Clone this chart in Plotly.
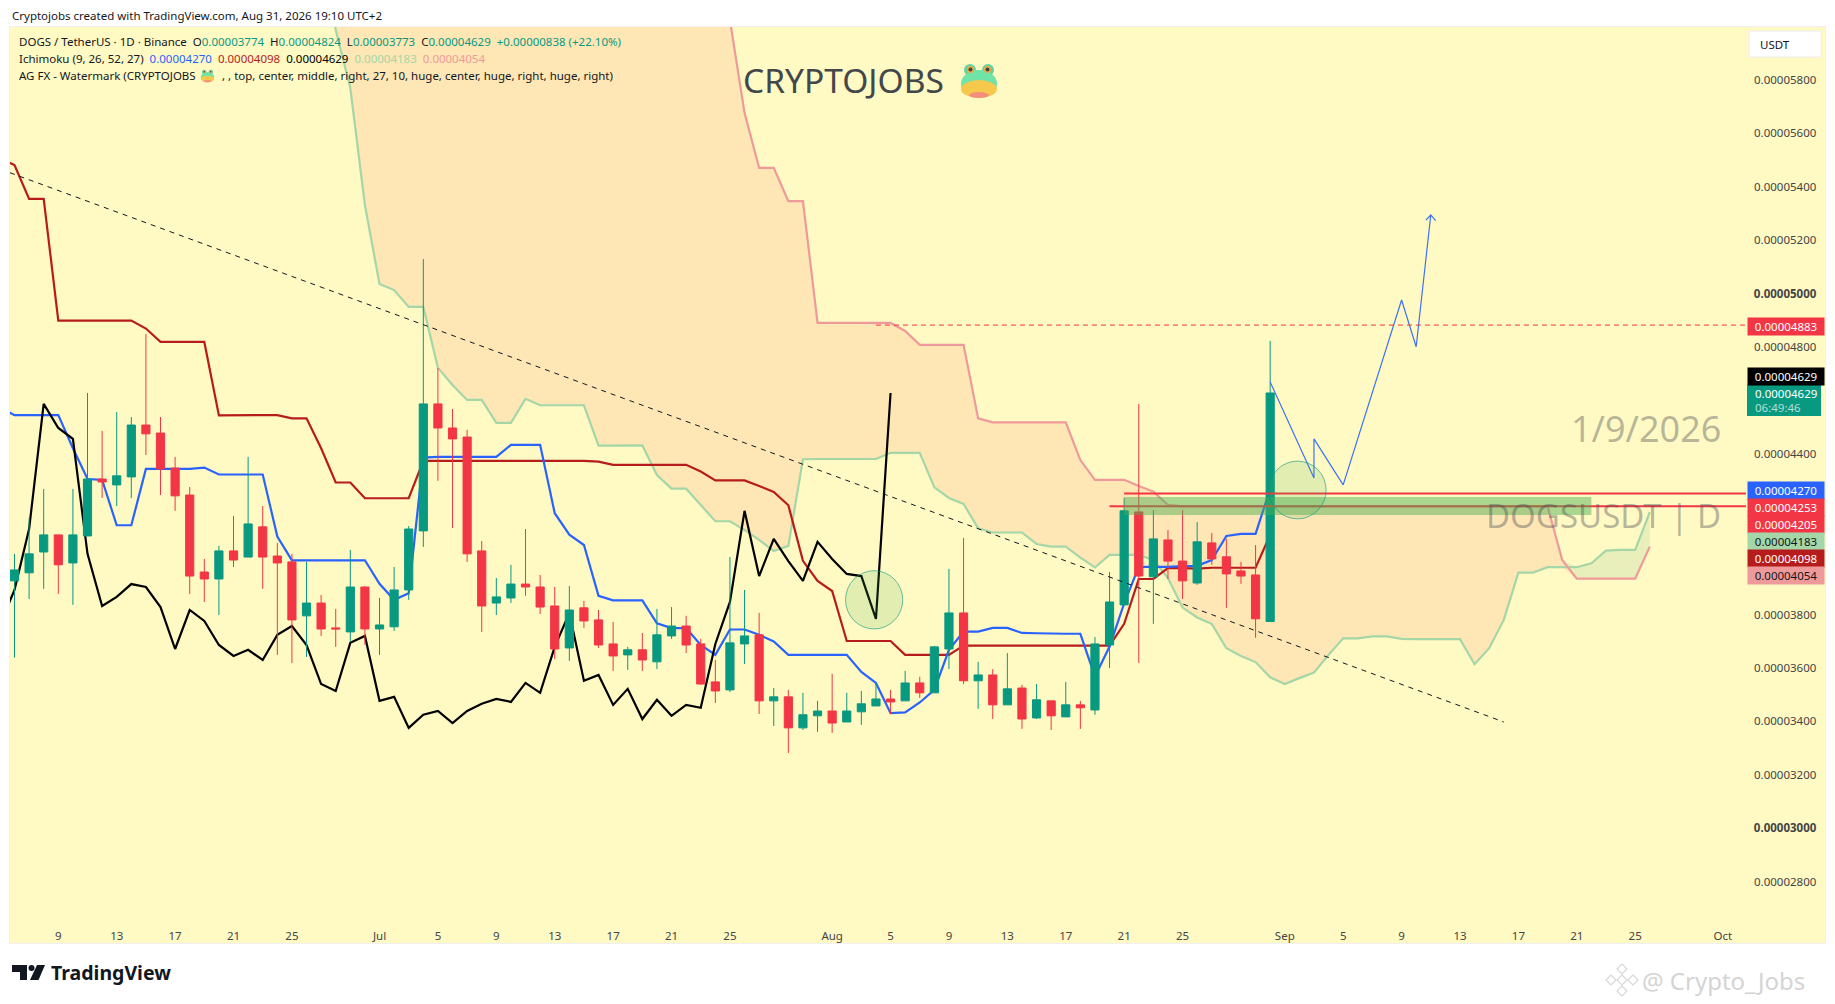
import numpy as np
import pandas as pd
import plotly.graph_objects as go

W, H = 1835, 1004
PL, PR, PT, PB = 10, 1825, 27, 943  # panel edges in the page

UNIT = 1e-8  # prices below are read in units of 0.00000001

# Daily candles, Jun 6 to Aug 31
opens = [3926, 3956, 4034, 4098, 3993, 4094, 4307, 4285, 4315, 4509,
         4479, 4348, 4247, 3959, 3933, 4038, 4015, 4128, 4019, 3997,
         3795, 3843, 3750, 3735, 3903, 3746, 3754, 3892, 4113, 4588,
         4498, 4464, 4038, 3843, 3862, 3914, 3903, 3832, 3675, 3825,
         3780, 3690, 3649, 3668, 3623, 3720, 3757, 3690, 3548, 3518,
         3690, 3724, 3477, 3492, 3376, 3421, 3439, 3398, 3436, 3458,
         3484, 3477, 3544, 3507, 3671, 3806, 3552, 3574, 3462, 3525,
         3413, 3477, 3417, 3462, 3443, 3686, 3836, 4184, 3941, 4079,
         4000, 3918, 4068, 4016, 3963, 3948, 3774]
highs = [4027, 4160, 4270, 4098, 4270, 4629, 4487, 4558, 4539, 4850,
         4539, 4390, 4277, 4008, 4057, 4169, 4390, 4206, 4068, 4027,
         3997, 3873, 3821, 4042, 3907, 3862, 3978, 4131, 5130, 4723,
         4569, 4491, 4075, 3937, 3986, 4120, 3948, 3903, 3907, 3851,
         3817, 3772, 3679, 3731, 3821, 3828, 3795, 3709, 3630, 4015,
         3892, 3806, 3525, 3518, 3507, 3477, 3578, 3507, 3514, 3548,
         3518, 3589, 3567, 3683, 3971, 4087, 3623, 3596, 3656, 3537,
         3540, 3477, 3548, 3477, 3716, 3959, 4236, 4588, 4191, 4116,
         4191, 4146, 4105, 4083, 3997, 4060, 4824]
lows = [3639, 3858, 3896, 3877, 3836, 4094, 4236, 4206, 4236, 4397,
        4247, 4188, 3877, 3847, 3798, 3978, 4015, 3896, 3649, 3619,
        3641, 3720, 3679, 3698, 3686, 3649, 3739, 3855, 4053, 4300,
        4124, 3997, 3735, 3798, 3843, 3870, 3802, 3634, 3627, 3750,
        3675, 3589, 3593, 3589, 3596, 3709, 3656, 3537, 3469, 3510,
        3615, 3428, 3383, 3282, 3368, 3361, 3357, 3398, 3387, 3458,
        3428, 3477, 3488, 3507, 3596, 3540, 3447, 3409, 3462, 3372,
        3409, 3368, 3417, 3372, 3425, 3600, 3836, 3619, 3765, 3933,
        3858, 3911, 3986, 3825, 3915, 3713, 3773]
closes = [3967, 4027, 4098, 3986, 4098, 4307, 4296, 4319, 4509, 4476,
          4345, 4244, 3944, 3933, 4038, 4004, 4139, 4015, 3993, 3780,
          3843, 3746, 3746, 3903, 3746, 3761, 3892, 4120, 4588, 4498,
          4457, 4027, 3832, 3866, 3914, 3903, 3828, 3671, 3817, 3776,
          3686, 3645, 3668, 3630, 3724, 3757, 3686, 3540, 3514, 3694,
          3720, 3477, 3492, 3376, 3425, 3439, 3394, 3439, 3466, 3484,
          3473, 3544, 3507, 3679, 3806, 3552, 3574, 3462, 3522, 3409,
          3481, 3421, 3462, 3451, 3690, 3847, 4188, 3944, 4083, 4000,
          3926, 4072, 4008, 3952, 3944, 3784, 4629]

# Ichimoku lines, Jun 5 to Aug 31
tenkan = [4574, 4546, 4546, 4546, 4546, 4422, 4307, 4304, 4134, 4134,
          4345, 4345, 4345, 4345, 4350, 4324, 4324, 4324, 4324, 4092,
          4003, 4003, 4003, 4003, 4003, 4003, 3915, 3855, 3880, 4387,
          4390, 4390, 4390, 4390, 4390, 4435, 4435, 4435, 4179, 4099,
          4060, 3870, 3853, 3853, 3853, 3767, 3749, 3749, 3686, 3649,
          3744, 3744, 3724, 3699, 3649, 3649, 3649, 3649, 3649, 3585,
          3544, 3431, 3434, 3471, 3518, 3668, 3736, 3736, 3750, 3750,
          3731, 3730, 3728, 3728, 3728, 3568, 3680, 3842, 3978, 3978,
          3978, 3981, 3982, 4004, 4094, 4102, 4102, 4270]
kijun = [5506, 5482, 5355, 5355, 4900, 4900, 4900, 4900, 4900, 4900,
         4870, 4820, 4820, 4820, 4820, 4545, 4546, 4546, 4546, 4546,
         4534, 4534, 4422, 4294, 4294, 4235, 4235, 4235, 4235, 4375,
         4375, 4375, 4375, 4375, 4375, 4375, 4375, 4375, 4375, 4375,
         4375, 4372, 4360, 4360, 4360, 4360, 4360, 4360, 4335, 4302,
         4302, 4302, 4281, 4259, 4209, 4001, 3926, 3888, 3701, 3701,
         3701, 3701, 3649, 3649, 3649, 3649, 3684, 3684, 3684, 3684,
         3684, 3684, 3684, 3684, 3684, 3684, 3684, 3765, 3933, 3933,
         3974, 3974, 3972, 3975, 3975, 3975, 3975, 4098]
# lagging line is the close drawn 26 days back
chikou = closes[25:]

# Cloud, Jun 27 to Sep 26 (first values sit above the visible range)
senkou_a = [6300, 5987, 5770, 5332, 5037, 5014, 4951, 4951, 4723, 4659,
            4603, 4603, 4517, 4517, 4607, 4583, 4583, 4583, 4583, 4432,
            4433, 4433, 4433, 4322, 4271, 4271, 4210, 4149, 4149, 4117,
            4079, 4038, 4057, 4381, 4382, 4382, 4382, 4382, 4382, 4405,
            4405, 4405, 4276, 4236, 4214, 4123, 4107, 4107, 4107, 4064,
            4054, 4054, 4013, 3976, 4023, 4023, 4023, 4004, 3936, 3826,
            3789, 3765, 3674, 3645, 3622, 3565, 3540, 3562, 3583, 3649,
            3711, 3711, 3718, 3718, 3709, 3708, 3708, 3708, 3708, 3614,
            3674, 3780, 3957, 3957, 3977, 3977, 3977, 3992, 4039, 4042,
            4042, 4183]
senkou_b = [6400, 6400, 6400, 6400, 6400, 6400, 6400, 6400, 6400, 6400,
            6400, 6400, 6400, 6400, 6400, 6400, 6400, 6400, 6400, 6400,
            6400, 6400, 6400, 6400, 6400, 6400, 6400, 6400, 6024, 5677,
            5471, 5471, 5347, 5347, 4891, 4891, 4891, 4891, 4891, 4891,
            4861, 4809, 4809, 4809, 4809, 4534, 4519, 4519, 4519, 4519,
            4519, 4519, 4378, 4304, 4304, 4304, 4281, 4260, 4210, 4205,
            4205, 4205, 4205, 4205, 4205, 4205, 4205, 4205, 4205, 4205,
            4205, 4205, 4205, 4205, 4205, 4205, 4205, 4205, 4205, 4205,
            4205, 4205, 4205, 4205, 4205, 4004, 3934, 3934, 3934, 3934,
            3934, 4054]

# Drawings on the chart
trend_dates = ["2026-06-05 16:36", "2026-09-16"]
trend_prices = [5453, 3398]
path_dates = ["2026-08-31", "2026-09-03", "2026-09-03", "2026-09-05", "2026-09-09",
              "2026-09-10", "2026-09-11", "2026-09-10 16:00", "2026-09-11", "2026-09-11 08:00"]
path_prices = [4670, 4311, 4457, 4285, 4977, 4802, 5295, 5276, 5295, 5274]
level_4883 = 4883
level_4253 = 4253
level_4205 = 4205

price_ticks = [5800, 5600, 5400, 5200, 5000, 4800, 4400, 3800, 3600, 3400, 3200, 3000, 2800]
bold_ticks = [5000, 3000]
date_ticks = ["2026-06-09", "2026-06-13", "2026-06-17", "2026-06-21", "2026-06-25",
              "2026-07-01", "2026-07-05", "2026-07-09", "2026-07-13", "2026-07-17",
              "2026-07-21", "2026-07-25", "2026-08-01", "2026-08-05", "2026-08-09",
              "2026-08-13", "2026-08-17", "2026-08-21", "2026-08-25", "2026-09-01",
              "2026-09-05", "2026-09-09", "2026-09-13", "2026-09-17", "2026-09-21",
              "2026-09-25", "2026-10-01"]
date_labels = ["9", "13", "17", "21", "25", "Jul", "5", "9", "13", "17", "21", "25", "Aug",
               "5", "9", "13", "17", "21", "25", "Sep", "5", "9", "13", "17", "21", "25", "Oct"]

UP, DOWN = "#089981", "#F23645"
BLUE, DARK_RED = "#2962FF", "#B71C1C"
A_GREEN, B_PINK = "#A5D6A7", "#EF9A9A"
PANEL = "#FFF9C4"
INK = "#131722"
FONT = "Noto Sans"

X_RANGE = ["2026-06-05 16:36", "2026-10-08"]
Y_RANGE = [2571 * UNIT, 5998.3 * UNIT]


def p(values):
    return np.array(values) * UNIT


def xp(x):
    return (x - PL) / (PR - PL)


def yp(y):
    return 1 - (y - PT) / (PB - PT)


candle_dates = pd.date_range("2026-06-06", periods=len(closes))
line_dates = pd.date_range("2026-06-05", periods=len(tenkan))
lag_dates = pd.date_range("2026-06-05", periods=len(chikou))
cloud_dates = pd.date_range("2026-06-27", periods=len(senkou_a))

cloud_a, cloud_b = np.array(senkou_a), np.array(senkou_b)

fig = go.Figure()


def flat(y, **kw):
    fig.add_trace(go.Scatter(x=cloud_dates, y=p(y), mode="lines", line=dict(width=0), **kw))


# Cloud fill: orange while B is on top, green once A is on top
flat(cloud_b)
flat(np.minimum(cloud_a, cloud_b), fill="tonexty", fillcolor="#FEE6B5")
flat(cloud_b)
flat(np.maximum(cloud_a, cloud_b), fill="tonexty", fillcolor="#E8EFBA")

fig.add_trace(go.Scatter(x=cloud_dates, y=p(senkou_a), mode="lines", line=dict(color=A_GREEN, width=2.2)))
fig.add_trace(go.Scatter(x=cloud_dates, y=p(senkou_b), mode="lines", line=dict(color=B_PINK, width=2.2)))
fig.add_trace(go.Scatter(x=line_dates, y=p(kijun), mode="lines", line=dict(color=DARK_RED, width=2.2)))
fig.add_trace(go.Scatter(x=line_dates, y=p(tenkan), mode="lines", line=dict(color=BLUE, width=2.2)))
fig.add_trace(go.Scatter(x=lag_dates, y=p(chikou), mode="lines", line=dict(color="#000000", width=2.2)))

# plotly paints scatter over candles on one subplot, so candles get their own overlay axes
fig.add_trace(go.Candlestick(
    x=candle_dates, open=p(opens), high=p(highs), low=p(lows), close=p(closes),
    whiskerwidth=0,
    increasing=dict(line=dict(color=UP, width=1), fillcolor=UP),
    decreasing=dict(line=dict(color=DOWN, width=1), fillcolor=DOWN),
    xaxis="x2", yaxis="y2",
))

# Drawings sit on a third pair of axes, above the candles
fig.add_trace(go.Scatter(x=trend_dates, y=p(trend_prices), mode="lines", xaxis="x3", yaxis="y3",
                         line=dict(color="#131722", width=1, dash="5px,5px")))
fig.add_trace(go.Scatter(x=path_dates, y=p(path_prices), mode="lines", xaxis="x3", yaxis="y3",
                         line=dict(color="#3F72F5", width=1.2)))
fig.add_trace(go.Scatter(x=["2026-08-04", "2026-10-02 14:00"], y=p([level_4883, level_4883]), mode="lines",
                         xaxis="x3", yaxis="y3", line=dict(color=DOWN, width=1, dash="5px,4px")))
fig.add_trace(go.Scatter(x=["2026-08-21", "2026-10-02 14:00"], y=p([level_4253, level_4253]), mode="lines",
                         xaxis="x3", yaxis="y3", line=dict(color=DOWN, width=2)))
fig.add_trace(go.Scatter(x=["2026-08-20", "2026-10-02 14:00"], y=p([level_4205, level_4205]), mode="lines",
                         xaxis="x3", yaxis="y3", line=dict(color=DOWN, width=2)))

shapes = []
# zone box and the two circles
shapes.append(dict(type="rect", xref="x", yref="y", x0="2026-08-21", x1="2026-09-22",
                   y0=4172 * UNIT, y1=4240 * UNIT, fillcolor="rgba(76,175,80,0.47)",
                   line=dict(width=0), layer="above"))
for x0, x1, y0, y1 in [("2026-08-01 22:00", "2026-08-05 20:00", 3746, 3964),
                       ("2026-08-30 22:00", "2026-09-03 20:00", 4158, 4374)]:
    shapes.append(dict(type="circle", xref="x", yref="y", x0=x0, x1=x1, y0=y0 * UNIT, y1=y1 * UNIT,
                       fillcolor="rgba(76,175,80,0.16)", line=dict(color="rgba(8,153,129,0.6)", width=1),
                       layer="above"))


def px_shape(kind, x0, y0, x1, y1, fill, line=None):
    shapes.append(dict(type=kind, xref="paper", yref="paper", x0=xp(x0), x1=xp(x1), y0=yp(y0), y1=yp(y1),
                       fillcolor=fill, line=line or dict(width=0), layer="above"))


def px_path(points, fill=None, line=None):
    d = "M" + " L".join(f"{xp(x):.5f},{yp(y):.5f}" for x, y in points) + " Z"
    shapes.append(dict(type="path", xref="paper", yref="paper", path=d,
                       fillcolor=fill or "rgba(0,0,0,0)", line=line or dict(width=0), layer="above"))


def frog(cx, cy, s):
    # the frog emoji has no installed font, so it is built from ellipses
    px_shape("circle", cx - 15 * s, cy - 17 * s, cx - 3 * s, cy - 5 * s, "#5FD3A0")
    px_shape("circle", cx + 3 * s, cy - 17 * s, cx + 15 * s, cy - 5 * s, "#5FD3A0")
    px_shape("circle", cx - 18 * s, cy - 11 * s, cx + 18 * s, cy + 17 * s, "#6FE3A8")
    px_shape("circle", cx - 18 * s, cy - 1 * s, cx + 18 * s, cy + 17 * s, "#F6C84C")
    px_shape("circle", cx - 10 * s, cy + 11 * s, cx + 10 * s, cy + 17 * s, "#F58F7C")
    px_shape("circle", cx - 12 * s, cy - 15 * s, cx - 5 * s, cy - 8 * s, "#F4A93B")
    px_shape("circle", cx + 5 * s, cy - 15 * s, cx + 12 * s, cy - 8 * s, "#F4A93B")
    px_shape("circle", cx - 10.5 * s, cy - 13.5 * s, cx - 6.5 * s, cy - 9.5 * s, "#45423F")
    px_shape("circle", cx + 6.5 * s, cy - 13.5 * s, cx + 10.5 * s, cy - 9.5 * s, "#45423F")


frog(979, 81, 1.0)
frog(207.5, 76, 0.37)

# USDT button
px_shape("rect", 1749, 31, 1821, 57, "#FFFFFF", dict(color="#ECECEC", width=1))

# countdown tag background
px_shape("rect", 1747, 385, 1821, 416, UP)

# TradingView logo
px_path([(12, 965), (27, 965), (27, 980), (20, 980), (20, 972), (12, 972)], fill="#131722")
px_shape("circle", 28.5, 965, 34.5, 971, "#131722")
px_path([(37, 965), (45, 965), (38.5, 980), (30, 980)], fill="#131722")

# Binance mark of the bottom stamp
grey = dict(color="#D8D8D8", width=1.2)
for cx, cy, r in [(1622, 969, 5), (1622, 991, 5), (1611, 980, 5), (1633, 980, 5), (1622, 980, 5)]:
    px_path([(cx, cy - r), (cx + r, cy), (cx, cy + r), (cx - r, cy)], line=grey)


def note(x, y, text, size=11.5, color=INK, anchor="left", **kw):
    return dict(xref="paper", yref="paper", x=xp(x), y=yp(y), text=text, showarrow=False,
                xanchor=anchor, yanchor="middle", font=dict(family=FONT, size=size, color=color), **kw)


def col(text, color):
    return f'<span style="color:{color}">{text}</span>'


row1 = ("DOGS / TetherUS · 1D · Binance  O" + col("0.00003774", UP) + "  H" + col("0.00004824", UP)
        + "  L" + col("0.00003773", UP) + "  C" + col("0.00004629", UP) + "  "
        + col("+0.00000838 (+22.10%)", UP))
row2 = ("Ichimoku (9, 26, 52, 27)  " + col("0.00004270", BLUE) + "  " + col("0.00004098", DARK_RED) + "  "
        + col("0.00004629", "#000000") + "  " + col("0.00004183", A_GREEN) + "  " + col("0.00004054", B_PINK))

annotations = [
    note(10, 15, "Cryptojobs created with TradingView.com, Aug 31, 2026 19:10 UTC+2"),
    note(17, 42, row1),
    note(17, 59, row2),
    note(17, 76, "AG FX - Watermark (CRYPTOJOBS"),
    note(220, 76, ", , top, center, middle, right, 27, 10, huge, center, huge, right, huge, right)"),
    note(741, 80, "CRYPTOJOBS", size=33.5, color="#43474A"),
    note(1723, 428, "1/9/2026", size=36, color="rgba(67,70,81,0.38)", anchor="right"),
    note(1723, 515, "DOGSUSDT | D", size=33, color="rgba(67,70,81,0.38)", anchor="right"),
    note(1758, 44, "USDT"),
    note(49, 973, "<b>TradingView</b>", size=19.5),
    note(1640, 980, "@ Crypto_Jobs", size=24, color="#D4D4D4"),
]

# Price tags on the scale
tags = [("0.00004883", 326.5, DOWN, "#FFFFFF"),
        ("0.00004629", 376.5, "#000000", "#FFFFFF"),
        ("0.00004270", 490.5, BLUE, "#FFFFFF"),
        ("0.00004253", 507.5, DOWN, "#FFFFFF"),
        ("0.00004205", 524.5, DOWN, "#FFFFFF"),
        ("0.00004183", 541.5, A_GREEN, INK),
        ("0.00004098", 558.5, DARK_RED, "#FFFFFF"),
        ("0.00004054", 575.5, B_PINK, INK)]
for text, y, bg, fg in tags:
    annotations.append(note(1747, y, text, color=fg, bgcolor=bg, width=74, height=15, borderpad=1, align="center"))
annotations.append(note(1753, 393, "0.00004629", color="#FFFFFF"))
annotations.append(note(1753, 408, "06:49:46", color="rgba(255,255,255,0.7)"))

tick_text = [f"<b>{v * UNIT:.8f}</b>" if v in bold_ticks else f"{v * UNIT:.8f}" for v in price_ticks]

overlay_x = dict(type="date", range=X_RANGE, overlaying="x", visible=False, rangeslider=dict(visible=False))
overlay_y = dict(range=Y_RANGE, overlaying="y", visible=False)

fig.update_layout(
    width=W, height=H,
    margin=dict(l=PL, r=W - PR, t=PT, b=H - PB),
    paper_bgcolor="#FFFFFF",
    plot_bgcolor=PANEL,
    showlegend=False,
    hovermode=False,
    boxgap=0.2,
    font=dict(family=FONT, size=11.5, color=INK),
    shapes=shapes,
    annotations=annotations,
    xaxis=dict(
        type="date",
        range=X_RANGE,
        rangeslider=dict(visible=False),
        tickvals=date_ticks,
        ticktext=date_labels,
        tickangle=0,
        ticklabelposition="inside",
        ticklen=0,
        showgrid=False,
        zeroline=False,
        showline=True,
        mirror=True,
        linecolor="#F0F0F0",
    ),
    yaxis=dict(
        range=Y_RANGE,
        side="right",
        tickvals=[v * UNIT for v in price_ticks],
        ticktext=tick_text,
        ticklabelposition="inside",
        ticklen=0,
        ticklabelstandoff=8,
        showgrid=False,
        zeroline=False,
        showline=True,
        mirror=True,
        linecolor="#F0F0F0",
    ),
    xaxis2=overlay_x,
    yaxis2=overlay_y,
    xaxis3=overlay_x,
    yaxis3=overlay_y,
)

fig.write_html("out.html", config=dict(displayModeBar=False),
               post_script="document.body.style.margin='0';document.body.style.overflow='hidden';")
